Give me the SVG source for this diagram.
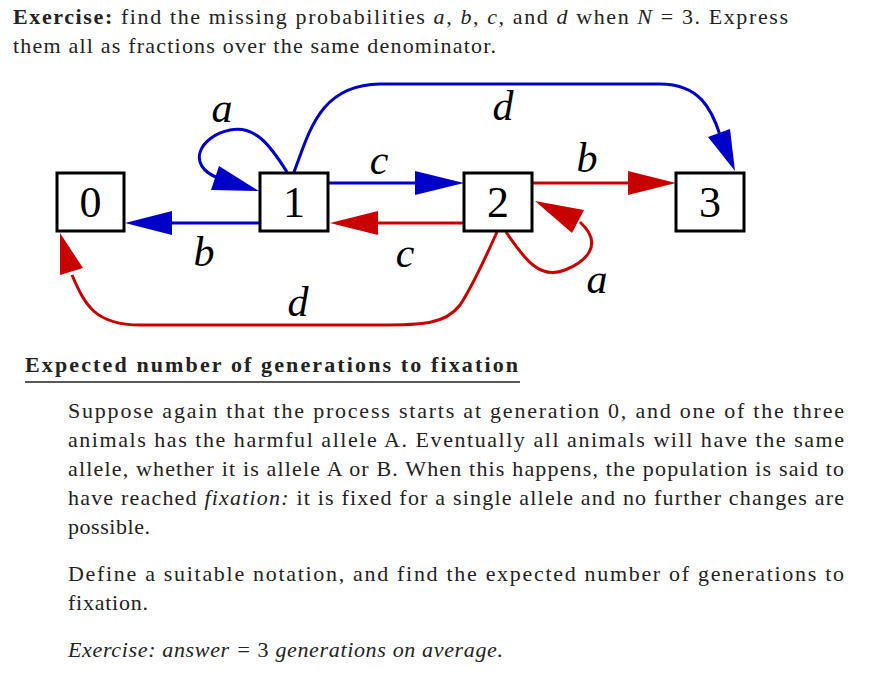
<svg xmlns="http://www.w3.org/2000/svg" width="873" height="689" viewBox="0 0 873 689">
<style>
text{font-family:"Liberation Serif",serif;font-size:22px;fill:#222}
.box{fill:#fff;stroke:#000;stroke-width:3}
.n{font-size:44px;text-anchor:middle;fill:#000}
.l{font-size:42px;font-style:italic;text-anchor:middle;fill:#000}
.bl{fill:none;stroke:#0000c8;stroke-width:3}
.rd{fill:none;stroke:#c80000;stroke-width:3}
</style>
<text x="13" y="24" textLength="775" lengthAdjust="spacing"><tspan font-weight="bold">Exercise:</tspan> find the missing probabilities <tspan font-style="italic">a</tspan>, <tspan font-style="italic">b</tspan>, <tspan font-style="italic">c</tspan>, and <tspan font-style="italic">d</tspan> when <tspan font-style="italic">N</tspan> = 3.  Express</text>
<text x="13" y="53" textLength="483" lengthAdjust="spacing">them all as fractions over the same denominator.</text>
<g id="connectors">
<path class="bl" d="M328,183H415" /><path d="M415,171L464,183L415,195z" fill="#0000c8"/>
<path class="rd" d="M532,183H628" /><path d="M628,171L676,183L628,195z" fill="#c80000"/>
<path class="rd" d="M464,223H378" /><path d="M378,211L330,223L378,235z" fill="#c80000"/>
<path class="bl" d="M260,223H172" /><path d="M172,211L125,223L172,235z" fill="#0000c8"/>
<path class="bl" d="M294,172C310,130 320,85 380,84H660C700,84 712,110 720,135"/><path d="M708,137L735,171L730,129z" fill="#0000c8"/>
<path class="bl" d="M287,172C270,145 255,125 230,130C200,136 185,165 218,178"/><path d="M211,190L259,191L219,166z" fill="#0000c8"/>
<path class="rd" d="M506,232C525,260 540,280 565,270C585,262 605,245 580,222"/><path d="M572,233L535,201L584,210z" fill="#c80000"/>
<path class="rd" d="M497,232C480,270 470,290 460,305C445,325 420,325 380,325H140C95,325 85,305 72,275"/><path d="M60,275L60,233L83,268z" fill="#c80000"/>
</g>
<g id="node0"><rect class="box" x="57" y="173" width="67" height="58"/><text class="n" x="90.5" y="217">0</text></g>
<g id="node1"><rect class="box" x="260" y="173" width="68" height="58"/><text class="n" x="294" y="217">1</text></g>
<g id="node2"><rect class="box" x="464" y="173" width="68" height="58"/><text class="n" x="498" y="217">2</text></g>
<g id="node3"><rect class="box" x="676" y="173" width="68" height="58"/><text class="n" x="710" y="217">3</text></g>
<g id="labels">
<text class="l" x="222" y="122">a</text>
<text class="l" x="503" y="120">d</text>
<text class="l" x="379" y="174">c</text>
<text class="l" x="587" y="172">b</text>
<text class="l" x="204" y="266">b</text>
<text class="l" x="405" y="267">c</text>
<text class="l" x="597" y="293">a</text>
<text class="l" x="298" y="316">d</text>
</g>
<text x="25" y="372" font-weight="bold" textLength="493" lengthAdjust="spacing">Expected number of generations to fixation</text>
<path d="M25,382H520" stroke="#222" stroke-width="1.5"/>
<text x="68" y="418" textLength="776" lengthAdjust="spacing">Suppose again that the process starts at generation 0, and one of the three</text>
<text x="68" y="447" textLength="776" lengthAdjust="spacing">animals has the harmful allele A. Eventually all animals will have the same</text>
<text x="68" y="476" textLength="776" lengthAdjust="spacing">allele, whether it is allele A or B. When this happens, the population is said to</text>
<text x="68" y="505" textLength="776" lengthAdjust="spacing">have reached <tspan font-style="italic">fixation:</tspan> it is fixed for a single allele and no further changes are</text>
<text x="68" y="534" textLength="82" lengthAdjust="spacing">possible.</text>
<text x="68" y="581" textLength="776" lengthAdjust="spacing">Define a suitable notation, and find the expected number of generations to</text>
<text x="68" y="610" textLength="80" lengthAdjust="spacing">fixation.</text>
<text x="68" y="657" font-family="Liberation Sans" font-style="italic" textLength="435" lengthAdjust="spacing">Exercise: answer = <tspan font-family="Liberation Serif" font-style="normal">3</tspan> generations on average.</text>
</svg>
